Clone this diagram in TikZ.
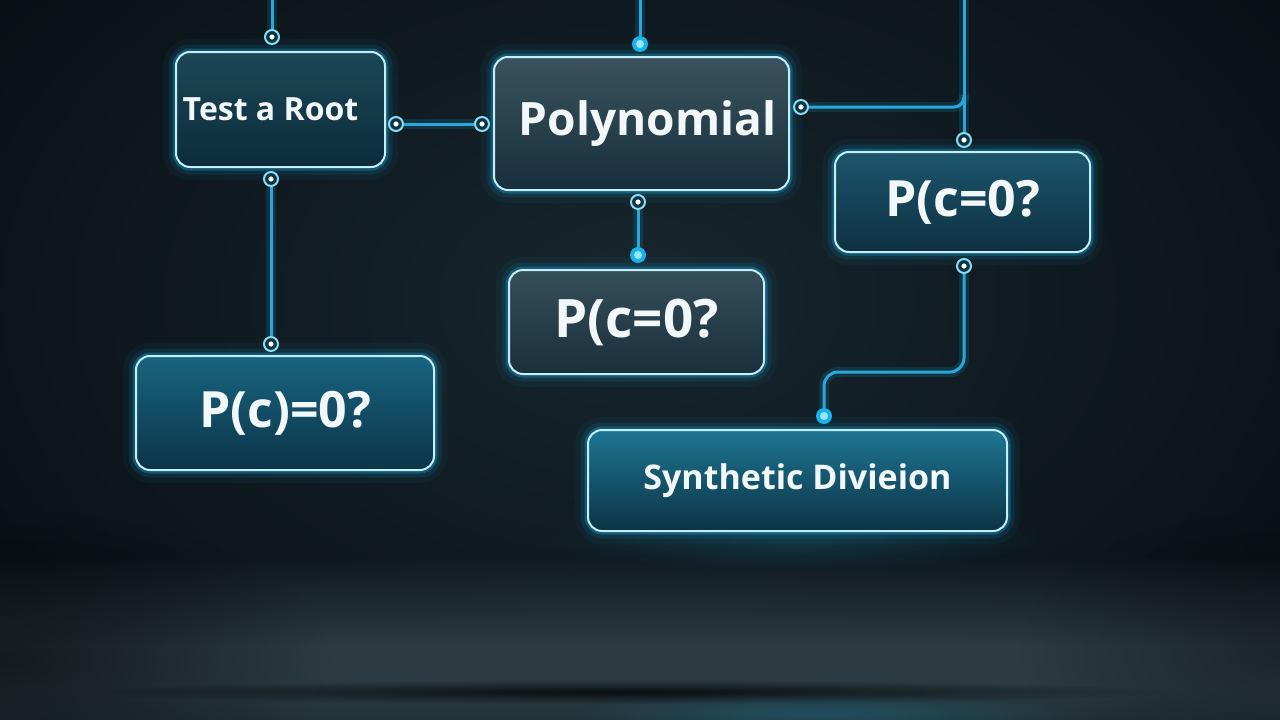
\documentclass[tikz,border=0pt]{standalone}
\usepackage{fontspec}
\setmainfont{Open Sans}
\usetikzlibrary{fadings}
\definecolor{bgA}{HTML}{080F13}
\definecolor{bgB}{HTML}{17262E}
\definecolor{floorc}{HTML}{2B3B41}
\definecolor{floorb}{HTML}{1E2E35}
\definecolor{edge}{HTML}{C4EEF8}
\definecolor{glow}{HTML}{18B2EC}
\definecolor{linec}{HTML}{2AA8DC}
\definecolor{ringc}{HTML}{8ADAF0}
\definecolor{dotfill}{HTML}{0D3444}
\definecolor{lightc}{HTML}{9BE6FA}
\definecolor{txt}{HTML}{F2F7F9}
\definecolor{rootTop}{HTML}{1C4757}
\definecolor{rootBot}{HTML}{0C2C3A}
\tikzfading[name=softglow, inner color=transparent!0, outer color=transparent!100]
\pgfdeclarelayer{bg}
\pgfdeclarelayer{lines}
\pgfsetlayers{bg,lines,main}
\tikzset{
  box/.style={rounded corners=14pt, line width=2pt, draw=edge, text=txt,
    font=\bfseries, inner sep=0pt,
    preaction={draw=glow, line width=26pt, opacity=0.05},
    preaction={draw=glow, line width=15pt, opacity=0.10},
    preaction={draw=glow, line width=7pt, opacity=0.30}},
  ring/.style={circle, draw=ringc, line width=2pt, fill=dotfill,
    minimum size=14pt, inner sep=0pt,
    path picture={\fill[white] (path picture bounding box.center) circle (2.6pt);}},
  fdot/.style={circle, fill=glow, minimum size=16pt, inner sep=0pt,
    path picture={\fill[lightc] (path picture bounding box.center) circle (4pt);}},
  conn/.style={draw=linec, line width=3pt,
    preaction={draw=glow, line width=10pt, opacity=0.15}},
}
\begin{document}
\begin{tikzpicture}[x=1pt,y=-1pt]
\useasboundingbox (0,0) rectangle (1280,720);
% boxes
\node[box, minimum width=209pt, minimum height=115pt, top color=rootTop, bottom color=rootBot, font=\bfseries\fontsize{32}{36}\selectfont] (root) at (280.5,109.5) {\raisebox{-3pt}{Test a Root}\hspace*{20pt}};
\node[box, minimum width=295pt, minimum height=133pt, top color={rgb,255:red,58;green,82;blue,94}, bottom color={rgb,255:red,24;green,46;blue,60}, font=\bfseries\fontsize{46}{50}\selectfont] (poly) at (641.5,123.5) {\hspace*{12pt}\raisebox{-9pt}{Polynomial}};
\node[box, minimum width=255pt, minimum height=104pt, top color={rgb,255:red,52;green,78;blue,90}, bottom color={rgb,255:red,26;green,48;blue,60}, font=\bfseries\fontsize{53}{56}\selectfont] (midp) at (636.5,322) {\raisebox{-2pt}{P(c=0?}};
\node[box, minimum width=255pt, minimum height=100pt, top color={rgb,255:red,28;green,86;blue,108}, bottom color={rgb,255:red,14;green,48;blue,66}, font=\bfseries\fontsize{50}{54}\selectfont] (rightp) at (962.5,202) {P(c=0?};
\node[box, minimum width=298pt, minimum height=114pt, top color={rgb,255:red,24;green,100;blue,128}, bottom color={rgb,255:red,12;green,52;blue,72}, font=\bfseries\fontsize{50}{54}\selectfont] (leftp) at (285,413) {\raisebox{-4pt}{P(c)=0?}};
\node[box, minimum width=419pt, minimum height=101pt, top color={rgb,255:red,30;green,118;blue,148}, bottom color={rgb,255:red,12;green,50;blue,68}, font=\bfseries\fontsize{34}{38}\selectfont] (synth) at (797.5,480.5) {\raisebox{-4pt}{Synthetic Divieion}};
% ports
\node[ring] (rT) at (272,37) {};
\node[ring] (rB) at (271,179) {};
\node[ring] (rR) at (396,124) {};
\node[ring] (pL) at (482,124) {};
\node[fdot] (pT) at (640,44) {};
\node[ring] (pB) at (638,202) {};
\node[ring] (pR) at (801,107) {};
\node[fdot] (mT) at (638,255) {};
\node[ring] (qT) at (964,140) {};
\node[ring] (qB) at (964,266) {};
\node[ring] (lT) at (271,344) {};
\node[fdot] (sT) at (824,416) {};
\coordinate (top1) at (272,0);
\coordinate (top2) at (640,0);
\coordinate (top3) at (964,0);
\coordinate (bend1) at (964,107);
\coordinate (bend2) at (964,95);
\coordinate (bend3) at (964,372);
\coordinate (bend4) at (824,372);
\begin{pgfonlayer}{lines}
\draw[conn] (top1) -- (rT);
\draw[conn] (top2) -- (pT);
\draw[conn] (top3) -- (qT);
\draw[conn] (rR) -- (pL);
\draw[conn] (rB) -- (lT);
\draw[conn] (pB) -- (mT);
\draw[conn, rounded corners=10pt] (pR) -- (bend1) -- (bend2);
\draw[conn, rounded corners=14pt] (qB) -- (bend3) -- (bend4) -- (sT);
\end{pgfonlayer}
\begin{pgfonlayer}{bg}
\shade[inner color=bgB, outer color=bgA] (-200,-250) rectangle (1480,850);
\fill[floorc, path fading=north] (-20,555) rectangle (1300,645);
\fill[floorc] (-20,644) rectangle (1300,730);
\shade[top color=floorc, bottom color=floorb] (-20,690) rectangle (1300,730);
\fill[black, opacity=0.75, path fading=softglow] (620,692) ellipse (560 and 12);
\fill[black, opacity=0.55, path fading=softglow] (0,660) ellipse (330 and 150);
\fill[black, opacity=0.35, path fading=softglow] (1280,650) ellipse (260 and 140);
\fill[glow, opacity=0.22, path fading=softglow] (820,714) ellipse (260 and 22);
\fill[glow, opacity=0.18, path fading=softglow] (800,540) ellipse (250 and 30);
\end{pgfonlayer}
\end{tikzpicture}
\end{document}
